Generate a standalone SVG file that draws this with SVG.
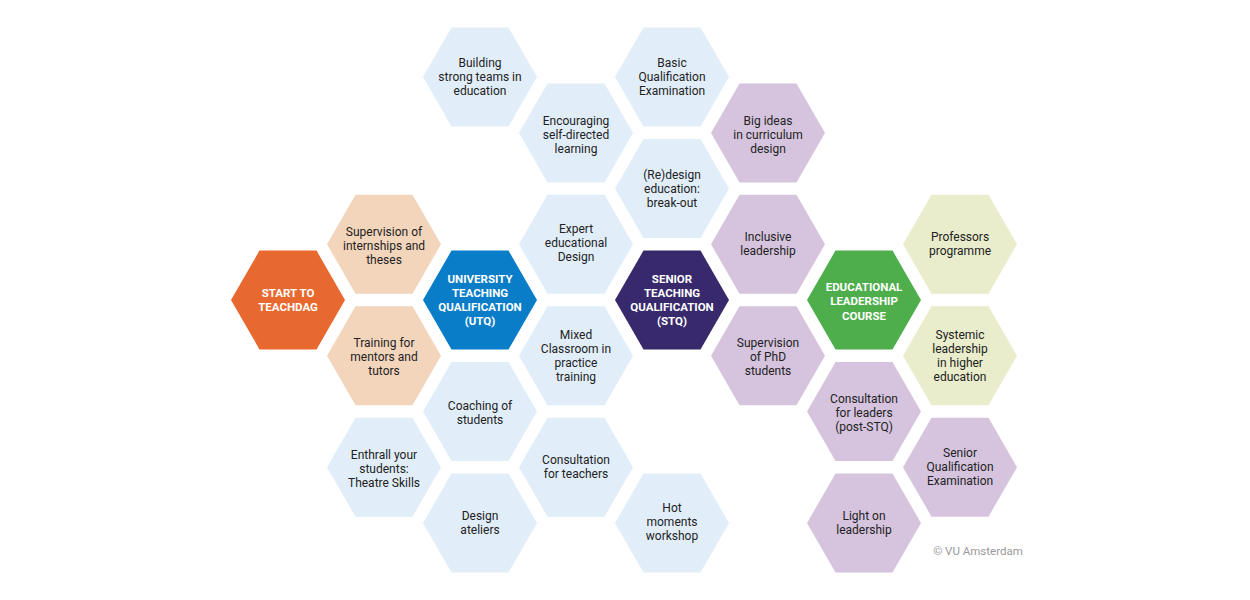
<svg xmlns="http://www.w3.org/2000/svg" xmlns:xlink="http://www.w3.org/1999/xlink" width="1250" height="600" viewBox="0 0 1250 600">
<defs>
<polygon id="hex" points="-57,0 -28.5,-49.4 28.5,-49.4 57,0 28.5,49.4 -28.5,49.4"/>
<style>
.t{font-family:Roboto,"Liberation Sans",sans-serif;font-size:12px;fill:#222;text-anchor:middle}
.b{font-family:Roboto,"Liberation Sans",sans-serif;font-size:11.5px;font-weight:bold;fill:#fff;text-anchor:middle}
.orange{fill:#E8692F}.peach{fill:#F3D5BC}.lb{fill:#E1EEFA}.blue{fill:#0A7DC8}
.dark{fill:#37296B}.pur{fill:#D6C4DE}.green{fill:#4DAE4B}.lg{fill:#E9EDCC}
.c{font-family:Roboto,"Liberation Sans",sans-serif;font-size:11.5px;fill:#999;text-anchor:middle}
</style>
</defs>
<g id="connectors"/>
<g id="start" transform="translate(288,300)"><use href="#hex" class="orange"/><text class="b" y="-3">START TO</text><text class="b" y="11">TEACHDAG</text></g>
<g id="supervision" transform="translate(384,244.25)"><use href="#hex" class="peach"/><text class="t" y="-8">Supervision of</text><text class="t" y="6">internships and</text><text class="t" y="20">theses</text></g>
<g id="training" transform="translate(384,355.75)"><use href="#hex" class="peach"/><text class="t" y="-9">Training for</text><text class="t" y="5">mentors and</text><text class="t" y="19">tutors</text></g>
<g id="utq" transform="translate(480,300)"><use href="#hex" class="blue"/><text class="b" y="-17">UNIVERSITY</text><text class="b" y="-3">TEACHING</text><text class="b" y="11">QUALIFICATION</text><text class="b" y="25">(UTQ)</text></g>
<g id="building" transform="translate(480,77)"><use href="#hex" class="lb"/><text class="t" y="-10">Building</text><text class="t" y="4">strong teams in</text><text class="t" y="18">education</text></g>
<g id="encouraging" transform="translate(576,133)"><use href="#hex" class="lb"/><text class="t" y="-8">Encouraging</text><text class="t" y="6">self-directed</text><text class="t" y="20">learning</text></g>
<g id="basic" transform="translate(672,77)"><use href="#hex" class="lb"/><text class="t" y="-10">Basic</text><text class="t" y="4">Qualification</text><text class="t" y="18">Examination</text></g>
<g id="bigideas" transform="translate(768,133)"><use href="#hex" class="pur"/><text class="t" y="-8">Big ideas</text><text class="t" y="6">in curriculum</text><text class="t" y="20">design</text></g>
<g id="redesign" transform="translate(672,188.5)"><use href="#hex" class="lb"/><text class="t" y="-10">(Re)design</text><text class="t" y="4">education:</text><text class="t" y="18">break-out</text></g>
<g id="expert" transform="translate(576,244.25)"><use href="#hex" class="lb"/><text class="t" y="-11">Expert</text><text class="t" y="3">educational</text><text class="t" y="17">Design</text></g>
<g id="stq" transform="translate(672,300)"><use href="#hex" class="dark"/><text class="b" y="-17">SENIOR</text><text class="b" y="-3">TEACHING</text><text class="b" y="11">QUALIFICATION</text><text class="b" y="25">(STQ)</text></g>
<g id="inclusive" transform="translate(768,244.25)"><use href="#hex" class="pur"/><text class="t" y="-3">Inclusive</text><text class="t" y="11">leadership</text></g>
<g id="elc" transform="translate(864,300)"><use href="#hex" class="green"/><text class="b" y="-9">EDUCATIONAL</text><text class="b" y="5">LEADERSHIP</text><text class="b" y="20">COURSE</text></g>
<g id="professors" transform="translate(960,244.25)"><use href="#hex" class="lg"/><text class="t" y="-3">Professors</text><text class="t" y="11">programme</text></g>
<g id="mixed" transform="translate(576,355.75)"><use href="#hex" class="lb"/><text class="t" y="-17">Mixed</text><text class="t" y="-3">Classroom in</text><text class="t" y="11">practice</text><text class="t" y="25">training</text></g>
<g id="phd" transform="translate(768,355.75)"><use href="#hex" class="pur"/><text class="t" y="-9">Supervision</text><text class="t" y="5">of PhD</text><text class="t" y="19">students</text></g>
<g id="systemic" transform="translate(960,355.75)"><use href="#hex" class="lg"/><text class="t" y="-17">Systemic</text><text class="t" y="-3">leadership</text><text class="t" y="11">in higher</text><text class="t" y="25">education</text></g>
<g id="coaching" transform="translate(480,411.5)"><use href="#hex" class="lb"/><text class="t" y="-2">Coaching of</text><text class="t" y="12">students</text></g>
<g id="consleaders" transform="translate(864,411.5)"><use href="#hex" class="pur"/><text class="t" y="-9">Consultation</text><text class="t" y="5">for leaders</text><text class="t" y="19">(post-STQ)</text></g>
<g id="enthrall" transform="translate(384,467.25)"><use href="#hex" class="lb"/><text class="t" y="-8">Enthrall your</text><text class="t" y="6">students:</text><text class="t" y="20">Theatre Skills</text></g>
<g id="consteachers" transform="translate(576,467.25)"><use href="#hex" class="lb"/><text class="t" y="-3">Consultation</text><text class="t" y="11">for teachers</text></g>
<g id="sqe" transform="translate(960,467.25)"><use href="#hex" class="pur"/><text class="t" y="-10">Senior</text><text class="t" y="4">Qualification</text><text class="t" y="18">Examination</text></g>
<g id="ateliers" transform="translate(480,523)"><use href="#hex" class="lb"/><text class="t" y="-3">Design</text><text class="t" y="11">ateliers</text></g>
<g id="hotmoments" transform="translate(672,523)"><use href="#hex" class="lb"/><text class="t" y="-11">Hot</text><text class="t" y="3">moments</text><text class="t" y="17">workshop</text></g>
<g id="light" transform="translate(864,523)"><use href="#hex" class="pur"/><text class="t" y="-3">Light on</text><text class="t" y="11">leadership</text></g>
<text class="c" x="978" y="555">© VU Amsterdam</text>
</svg>
